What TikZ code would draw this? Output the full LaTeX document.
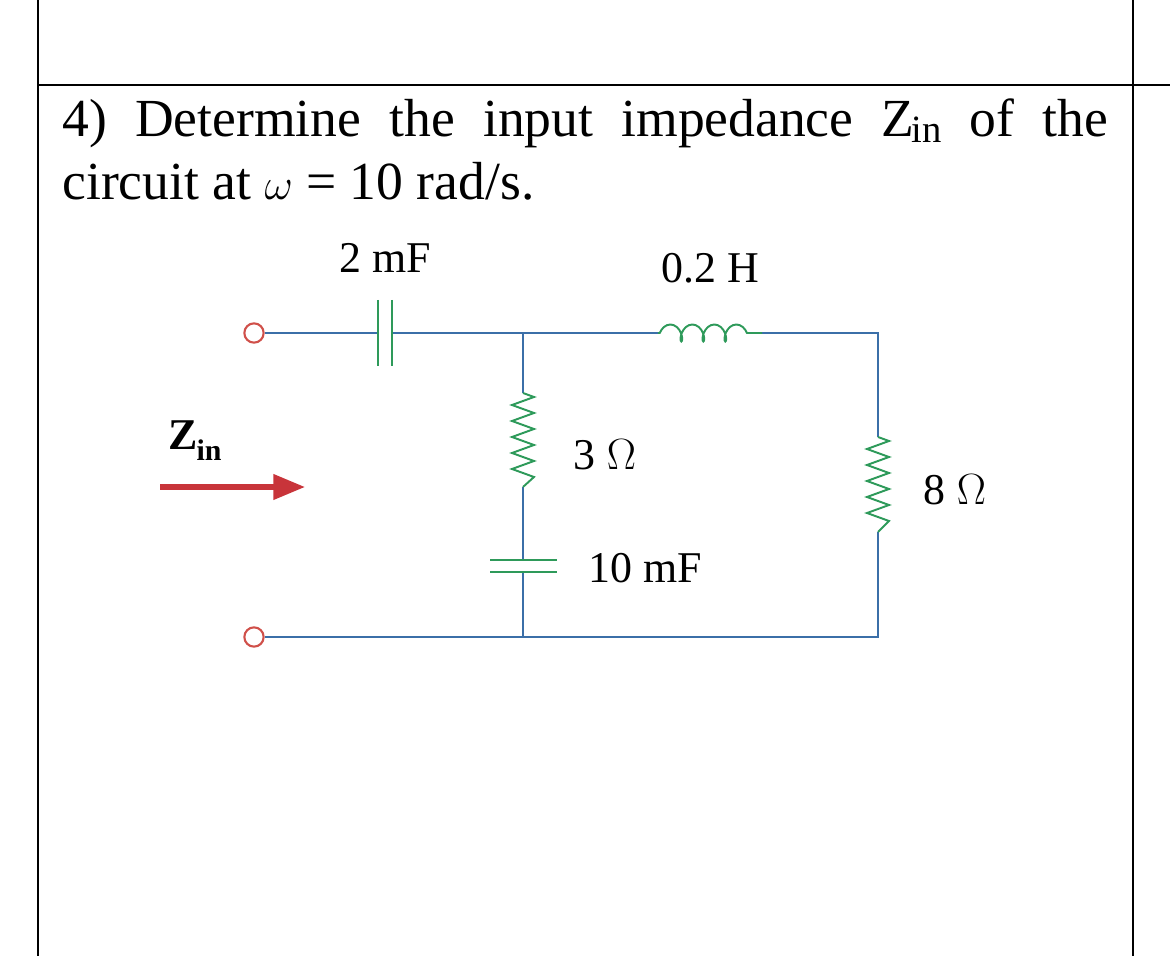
\documentclass[tikz,border=0pt]{standalone}
\usepackage{fontspec}
\setmainfont{Liberation Serif}
\usetikzlibrary{decorations.pathmorphing,arrows.meta}
\definecolor{wire}{HTML}{3B6FA8}
\definecolor{comp}{HTML}{2E9A5A}
\definecolor{term}{HTML}{D0504A}
\definecolor{arr}{HTML}{C8343A}
\begin{document}
\begin{tikzpicture}[x=0.02cm,y=-0.02cm,
  w/.style={wire,line width=1.1pt},
  c/.style={comp,line width=1.1pt},
  lbl/.style={font=\fontsize{25}{28}\selectfont},
  txt/.style={font=\fontsize{30.5}{34}\selectfont,anchor=base west,inner sep=0}]
\useasboundingbox (0,0) rectangle (1170,956);
% table
\draw[line width=1.2pt] (38,0) -- (38,956) (1133,0) -- (1133,956) (38,85) -- (1170,85);
\node[txt] (t1) at (62,137) {\hbox to 20.92cm{4)\hfill Determine\hfill the\hfill input\hfill impedance\hfill Z\kern-0.05em\raisebox{-0.1em}{\fontsize{22}{24}\selectfont in}\hfill of\hfill the}};
\node[txt] (t2) at (62,200) {circuit at $\omega$ = 10 rad/s.};
% coordinates
\coordinate (a) at (263,333);
\coordinate (c1) at (378,333);
\coordinate (c2) at (392,333);
\coordinate (m) at (523,333);
\coordinate (l1) at (658,333);
\coordinate (l2) at (762,333);
\coordinate (r) at (878,333);
\coordinate (rb) at (878,637);
\coordinate (mb) at (523,637);
\coordinate (b) at (263,637);
% terminals
\node[draw=term,line width=1.2pt,circle,minimum size=11pt,inner sep=0] (ta) at (254,333) {};
\node[draw=term,line width=1.2pt,circle,minimum size=11pt,inner sep=0] (tb) at (254,637) {};
% top wire
\draw[w] (ta) -- (c1) (c2) -- (l1) (l2) -- (r) -- (878,437);
\draw[w] (878,532) -- (rb) -- (tb);
\draw[c] (c1)++(0,-33) -- ++(0,66) (c2)++(0,-33) -- ++(0,66);
\draw[c,decorate,decoration={coil,aspect=0.6,segment length=0.44cm,amplitude=0.17cm,pre length=1pt,post length=1pt}] (l1) -- (l2);
% middle branch
\draw[w] (m) -- (523,393) (523,487) -- (523,560) (523,572) -- (mb);
\draw[c] (523,393) -- (534,397) -- (512,405) -- (534,413) -- (512,421) -- (534,429) -- (512,437) -- (534,445) -- (512,453) -- (534,461) -- (512,469) -- (534,477) -- (523,487);
\draw[c] (490,560) -- (557,560) (490,572) -- (557,572);
% right resistor
\draw[c] (878,437) -- (889,441) -- (867,449) -- (889,457) -- (867,465) -- (889,473) -- (867,481) -- (889,489) -- (867,497) -- (889,505) -- (867,513) -- (889,521) -- (878,532);
% labels
\node[lbl] (L1) at (385,258) {2 mF};
\node[lbl] (L2) at (710,268) {0.2 H};
\node[lbl] (L3) at (605,455) {3 $\Omega$};
\node[lbl] (L4) at (955,490) {8 $\Omega$};
\node[lbl] (L5) at (645,568) {10 mF};
\node[font=\fontsize{25}{28}\selectfont\bfseries] (zin) at (195,441) {Z\kern-0.03em\raisebox{-0.25em}{\fontsize{17}{20}\selectfont in}};
\coordinate (z0) at (160,487);
\coordinate (z1) at (305,487);
\draw[arr,line width=3pt,-{Triangle[length=18pt,width=14pt]}] (z0) -- (z1);
\end{tikzpicture}
\end{document}
